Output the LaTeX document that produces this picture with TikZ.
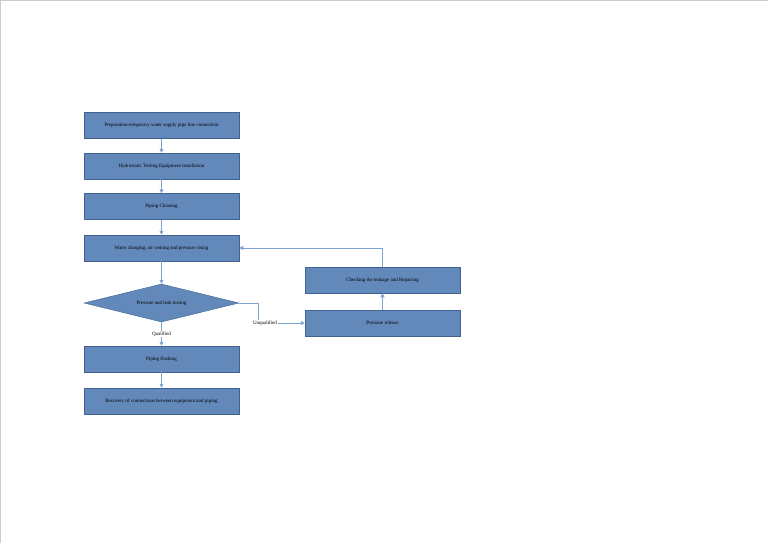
\documentclass[tikz,border=0pt]{standalone}
\usepackage{fontspec}
\setmainfont{Liberation Serif}
\usetikzlibrary{shapes.geometric,arrows.meta}
\definecolor{bfill}{HTML}{6389BB}
\definecolor{bdraw}{HTML}{3F6290}
\definecolor{arr}{HTML}{7FA3D0}
\begin{document}
\begin{tikzpicture}[x=1pt,y=-1pt,
  box/.style={draw=bdraw,fill=bfill,minimum width=155pt,minimum height=26pt,inner sep=0pt,font=\fontsize{5}{6}\selectfont,line width=0.5pt},
  dia/.style={diamond,aspect=4.08,draw=bdraw,fill=bfill,minimum width=155pt,minimum height=38pt,inner sep=0pt,font=\fontsize{5}{6}\selectfont},
  conn/.style={draw=arr,line width=0.8pt,-{Triangle[width=4pt,length=4pt]}},
  lbl/.style={font=\fontsize{5}{6}\selectfont,fill=white,inner sep=1pt}]
\useasboundingbox (0,0) rectangle (768,543);
\draw[gray!40] (0,0) rectangle (768,543);
\node[box] (b1) at (161.5,125.5) {Preparation-temporary water supply pipe line connection};
\node[box] (b2) at (161.5,166) {Hydrostatic Testing Equipment installation};
\node[box] (b3) at (161.5,206.5) {Piping Cleaning};
\node[box] (b4) at (161.5,248) {Water charging, air venting and pressure rising};
\node[dia,shape aspect=4.08] (d) at (161.5,303) {Pressure and leak testing};
\node[box] (b5) at (161.5,359) {Piping flushing};
\node[box] (b6) at (161.5,401) {Recovery of connections between equipment and piping};
\node[box] (r1) at (382.5,280) {Checking the leakage and Repairing};
\node[box] (r2) at (382.5,323) {Pressure release};
\coordinate (c1) at (258,303);
\coordinate (c2) at (258,323);
\coordinate (c3) at (382.5,248);
\draw[conn] (b1) -- (b2);
\draw[conn] (b2) -- (b3);
\draw[conn] (b3) -- (b4);
\draw[conn] (b4) -- (d);
\draw[conn] (d) -- node[lbl,pos=0.5]{Qualified} (b5);
\draw[conn] (b5) -- (b6);
\draw[conn] (d.east) -- (c1) -- (c2) -- node[lbl,pos=0.15]{Unqualified} (r2.west);
\draw[conn] (r2) -- (r1);
\draw[conn] (r1.north) -- (c3) -- (b4.east);
\end{tikzpicture}
\end{document}
